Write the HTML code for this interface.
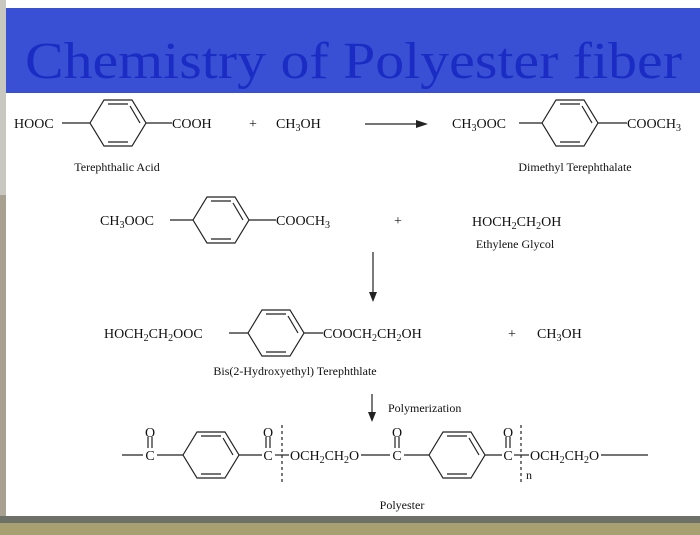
<!DOCTYPE html>
<html><head><style>
html,body{margin:0;padding:0;width:700px;height:535px;overflow:hidden;background:#fff}
</style></head><body>
<svg width="700" height="535" viewBox="0 0 700 535" xmlns="http://www.w3.org/2000/svg" font-family="Liberation Serif, serif" font-size="14" fill="#111">
<rect x="0" y="0" width="700" height="535" fill="#fff"/>
<rect x="0" y="0" width="6" height="520" fill="#c8c8c0"/>
<rect x="0" y="195" width="6" height="325" fill="#a8a090"/>
<rect x="6" y="8" width="694" height="85" fill="#3a50d4"/>
<text x="25" y="78" font-family="Liberation Serif, serif" font-size="52" fill="#1a2cc4" textLength="657" lengthAdjust="spacingAndGlyphs">Chemistry of Polyester fiber</text>
<rect x="0" y="516" width="700" height="7" fill="#6c7066"/>
<rect x="0" y="523" width="700" height="12" fill="#a8a070"/>
<defs>
<g id="hex" fill="none" stroke="#222" stroke-width="1.2">
<polygon points="-28,0 -14,-23 14,-23 28,0 14,23 -14,23"/>
<line x1="-10" y1="-19" x2="10" y2="-19"/><line x1="-10" y1="19" x2="10" y2="19"/><line x1="22" y1="0" x2="12" y2="-17"/>
</g>
</defs>
<g stroke="#222" stroke-width="1.2">
<line x1="62" y1="123" x2="90" y2="123"/><line x1="146" y1="123" x2="172" y2="123"/>
<line x1="365" y1="124" x2="420" y2="124"/>
<line x1="519" y1="123" x2="542" y2="123"/><line x1="598" y1="123" x2="627" y2="123"/>
<line x1="170" y1="220" x2="193" y2="220"/><line x1="249" y1="220" x2="276" y2="220"/>
<line x1="373" y1="252" x2="373" y2="296"/>
<line x1="229" y1="333" x2="248" y2="333"/><line x1="304" y1="333" x2="323" y2="333"/>
<line x1="372" y1="394" x2="372" y2="416"/>
<line x1="122" y1="455" x2="143" y2="455"/><line x1="157" y1="455" x2="183" y2="455"/>
<line x1="239" y1="455" x2="262" y2="455"/><line x1="275" y1="455" x2="291" y2="455"/>
<line x1="360" y1="455" x2="390" y2="455"/>
<line x1="404" y1="455" x2="429" y2="455"/><line x1="485" y1="455" x2="502" y2="455"/><line x1="514" y1="455" x2="530" y2="455"/>
<line x1="600" y1="455" x2="648" y2="455"/>
<line x1="148" y1="437" x2="148" y2="448"/><line x1="152" y1="437" x2="152" y2="448"/>
<line x1="266" y1="437" x2="266" y2="448"/><line x1="270" y1="437" x2="270" y2="448"/>
<line x1="395" y1="437" x2="395" y2="448"/><line x1="399" y1="437" x2="399" y2="448"/>
<line x1="506" y1="437" x2="506" y2="448"/><line x1="510" y1="437" x2="510" y2="448"/>
<line x1="282" y1="425" x2="282" y2="484" stroke-dasharray="3,3"/>
<line x1="521" y1="425" x2="521" y2="484" stroke-dasharray="3,3"/>
</g>
<polygon points="428,124 416,120 416,128" fill="#222"/>
<polygon points="373,302 369,292 377,292" fill="#222"/>
<polygon points="372,422 368,412 376,412" fill="#222"/>
<use href="#hex" x="118" y="123"/><use href="#hex" x="570" y="123"/>
<use href="#hex" x="221" y="220"/><use href="#hex" x="276" y="333"/>
<use href="#hex" x="211" y="455"/><use href="#hex" x="457" y="455"/>
<text x="14" y="128">HOOC</text><text x="172" y="128">COOH</text>
<text x="249" y="128">+</text><text x="276" y="128">CH<tspan font-size="10" dy="3">3</tspan><tspan dy="-3">OH</tspan></text>
<text x="452" y="128">CH<tspan font-size="10" dy="3">3</tspan><tspan dy="-3">OOC</tspan></text>
<text x="627" y="128">COOCH<tspan font-size="10" dy="3">3</tspan></text>
<text x="117" y="171" font-size="12" text-anchor="middle">Terephthalic Acid</text>
<text x="575" y="171" font-size="12" text-anchor="middle">Dimethyl Terephthalate</text>
<text x="100" y="225">CH<tspan font-size="10" dy="3">3</tspan><tspan dy="-3">OOC</tspan></text>
<text x="276" y="225">COOCH<tspan font-size="10" dy="3">3</tspan></text>
<text x="394" y="225">+</text>
<text x="472" y="226">HOCH<tspan font-size="10" dy="3">2</tspan><tspan dy="-3">CH</tspan><tspan font-size="10" dy="3">2</tspan><tspan dy="-3">OH</tspan></text>
<text x="515" y="248" font-size="12" text-anchor="middle">Ethylene Glycol</text>
<text x="104" y="338">HOCH<tspan font-size="10" dy="3">2</tspan><tspan dy="-3">CH</tspan><tspan font-size="10" dy="3">2</tspan><tspan dy="-3">OOC</tspan></text>
<text x="323" y="338">COOCH<tspan font-size="10" dy="3">2</tspan><tspan dy="-3">CH</tspan><tspan font-size="10" dy="3">2</tspan><tspan dy="-3">OH</tspan></text>
<text x="508" y="338">+</text>
<text x="537" y="338">CH<tspan font-size="10" dy="3">3</tspan><tspan dy="-3">OH</tspan></text>
<text x="295" y="375" font-size="12" text-anchor="middle">Bis(2-Hydroxyethyl) Terephthlate</text>
<text x="388" y="412" font-size="12">Polymerization</text>
<text x="150" y="460" text-anchor="middle">C</text><text x="150" y="437" text-anchor="middle">O</text>
<text x="268" y="460" text-anchor="middle">C</text><text x="268" y="437" text-anchor="middle">O</text>
<text x="397" y="460" text-anchor="middle">C</text><text x="397" y="437" text-anchor="middle">O</text>
<text x="508" y="460" text-anchor="middle">C</text><text x="508" y="437" text-anchor="middle">O</text>
<rect x="289" y="445" width="72" height="18" fill="#fff"/>
<text x="290" y="460">OCH<tspan font-size="10" dy="3">2</tspan><tspan dy="-3">CH</tspan><tspan font-size="10" dy="3">2</tspan><tspan dy="-3">O</tspan></text>
<rect x="529" y="445" width="72" height="18" fill="#fff"/>
<text x="530" y="460">OCH<tspan font-size="10" dy="3">2</tspan><tspan dy="-3">CH</tspan><tspan font-size="10" dy="3">2</tspan><tspan dy="-3">O</tspan></text>
<text x="526" y="479" font-size="12">n</text>
<text x="402" y="509" font-size="12" text-anchor="middle">Polyester</text>
</svg>
</body></html>
